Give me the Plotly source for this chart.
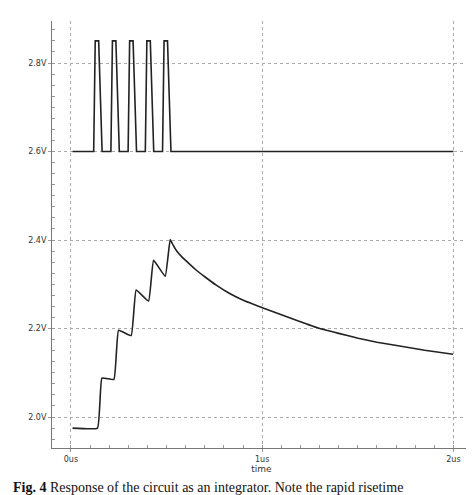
import plotly.graph_objects as go

pulse_t = [0.0085, 0.119, 0.127, 0.145, 0.163, 0.209, 0.217, 0.235, 0.253, 0.299, 0.307, 0.325, 0.343,
           0.389, 0.397, 0.415, 0.433, 0.479, 0.487, 0.505, 0.523, 2.0]
pulse_v = [2.6, 2.6, 2.85, 2.85, 2.6, 2.6, 2.85, 2.85, 2.6, 2.6, 2.85, 2.85, 2.6,
           2.6, 2.85, 2.85, 2.6, 2.6, 2.85, 2.85, 2.6, 2.6]

out_t = [0.0085, 0.139, 0.162, 0.225, 0.249, 0.315, 0.341, 0.406, 0.432, 0.493, 0.519,
         0.535, 0.555, 0.58, 0.61, 0.65, 0.7, 0.76, 0.83, 0.91, 1.001, 1.15, 1.293, 1.4,
         1.502, 1.6, 1.711, 1.85, 1.998]
out_v = [1.975, 1.975, 2.088, 2.085, 2.196, 2.184, 2.287, 2.262, 2.354, 2.318, 2.401,
         2.388, 2.374, 2.362, 2.350, 2.334, 2.317, 2.298, 2.279, 2.262, 2.247, 2.223, 2.201, 2.189,
         2.178, 2.169, 2.161, 2.151, 2.142]

x_ticks = [0, 1, 2]
x_labels = ["0us", "1us", "2us"]
y_ticks = [2.0, 2.2, 2.4, 2.6, 2.8]
y_labels = ["2.0V", "2.2V", "2.4V", "2.6V", "2.8V"]

fig = go.Figure()
line = dict(color="#222222", width=1.6, shape="linear")
fig.add_trace(go.Scatter(x=pulse_t, y=pulse_v, mode="lines", line=line))
fig.add_trace(go.Scatter(x=out_t, y=out_v, mode="lines", line=dict(color="#222222", width=1.6, shape="spline", smoothing=0.3)))

grid = dict(showgrid=True, gridcolor="#aaaaaa", griddash="dot", gridwidth=1,
            showline=True, linecolor="#777777", linewidth=1, mirror=False, zeroline=False,
            ticks="outside", ticklen=3, tickcolor="#999999",
            tickfont=dict(family="DejaVu Sans", size=8, color="#333333"))
fig.update_xaxes(range=[-0.099, 2.092], tickvals=x_ticks, ticktext=x_labels,
                 minor=dict(dtick=0.1, ticks="inside", ticklen=3, tickcolor="#999999"),
                 title=dict(text="time", font=dict(family="DejaVu Sans", size=9, color="#333333"), standoff=2),
                 **grid)
fig.update_yaxes(range=[1.930, 2.895], tickvals=y_ticks, ticktext=y_labels,
                 minor=dict(dtick=0.025, ticks="inside", ticklen=3, tickcolor="#999999"),
                 **grid)
fig.add_annotation(x=0, y=0, xref="paper", yref="paper", xanchor="left", yanchor="top",
                   xshift=-41, yshift=-30, showarrow=False,
                   text="<b>Fig. 4</b> Response of the circuit as an integrator. Note the rapid risetime",
                   font=dict(family="Liberation Serif", size=14, color="#111111"))
fig.update_layout(width=474, height=495, margin=dict(l=44, r=11, t=13, b=55),
                  plot_bgcolor="white", paper_bgcolor="white", showlegend=False)
fig.write_html("out.html")
